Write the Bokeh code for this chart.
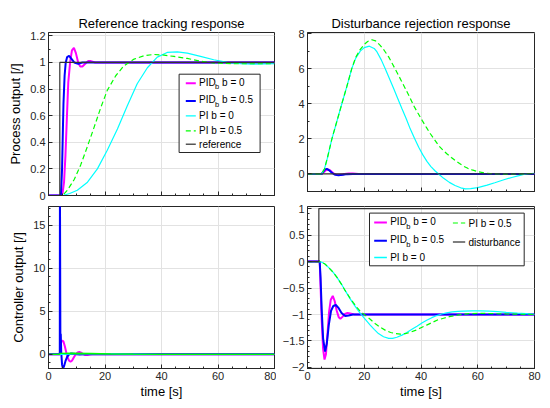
from bokeh.plotting import figure
from bokeh.models import FixedTicker, Range1d, CustomJSTickFormatter
from bokeh.layouts import column, row
from bokeh.embed import file_html
from bokeh.resources import INLINE
from bokeh.core.properties import value

FONT = "Liberation Sans"
C_PID0 = "#FF00FF"
C_PID05 = "#0000FF"
C_PI0 = "#00FFFF"
C_PI05 = "#00FF00"
C_REF = "#333333"

# ---------------- data: reference tracking (process output) ----------------
t_ref_tl = [0, 4, 4, 80]
y_ref_tl = [0, 0, 1, 1]

t_pid0_tl = [0, 4.5, 5.0, 5.5, 6.0, 6.5, 7.0, 7.65, 8.3, 9.0, 9.7, 10.5, 11.2, 12.0, 13.0, 14.0, 15.0, 16.5, 80]
y_pid0_tl = [0, 0, 0.02, 0.1, 0.3, 0.58, 0.85, 1.0, 1.09, 1.11, 1.07, 1.0, 0.97, 0.97, 0.99, 1.01, 1.01, 1.0, 1.0]

t_pid05_tl = [0, 4.4, 4.8, 5.1, 5.3, 5.7, 6.1, 6.6, 7.3, 8.0, 9.1, 10.5, 12.0, 80]
y_pid05_tl = [0, 0, 0.2, 0.5, 0.69, 0.9, 1.0, 1.04, 1.05, 1.03, 1.0, 0.99, 1.0, 1.0]

t_pi0_tl = [0, 5, 7.5, 10.2, 13.8, 17.3, 20.8, 24.4, 27.9, 31.4, 35, 38.5, 42, 45.6, 49.1, 53.8, 58.5, 63.3, 68, 72.7, 80]
y_pi0_tl = [0, 0, 0.015, 0.04, 0.1, 0.2, 0.34, 0.5, 0.675, 0.84, 0.96, 1.04, 1.075, 1.08, 1.07, 1.045, 1.02, 1.0, 0.99, 0.988, 0.99]

t_pi05_tl = [0, 5, 6.7, 9.1, 11.4, 13.8, 16.1, 18.5, 20.8, 23.8, 26.7, 30.3, 33.8, 37.3, 40.9, 44.4, 49.1, 53.8, 58.5, 65.6, 80]
y_pi05_tl = [0, 0, 0.04, 0.12, 0.23, 0.37, 0.51, 0.66, 0.79, 0.9, 0.975, 1.025, 1.05, 1.06, 1.055, 1.045, 1.03, 1.01, 0.995, 0.99, 0.99]

# ---------------- data: disturbance rejection (process output) ----------------
t_ref_tr = [0, 80]
y_ref_tr = [0, 0]

t_pid0_tr = [0, 5.0, 5.6, 6.4, 7.2, 8.0, 9.0, 10, 11.5, 13, 14.5, 16, 18, 80]
y_pid0_tr = [0, 0, 0.08, 0.2, 0.26, 0.2, 0.05, -0.04, -0.05, 0.0, 0.03, 0.02, 0, 0]

t_pid05_tr = [0, 5.0, 5.5, 6.2, 6.8, 7.5, 8.5, 9.5, 10.9, 12.5, 14, 16, 80]
y_pid05_tr = [0, 0, 0.12, 0.26, 0.29, 0.22, 0.08, -0.03, -0.08, -0.05, -0.01, 0, 0]

t_pi0_tr = [0, 5, 6, 7, 8.6, 10.35, 12.1, 13.9, 15.6, 17.0, 18.6, 20, 21.8, 23.5, 24.5, 26, 27.4, 28.9,
            30.4, 31.8, 33.3, 34.8, 36.2, 37.7, 39.2, 40.6, 42.1, 43.5, 45, 46.2, 48, 50, 52, 54, 55.6,
            57.5, 60, 63.3, 66, 69.2, 72, 74.5, 76.2, 78, 80]
y_pi0_tr = [0, 0, 0.3, 0.9, 2.0, 3.0, 4.0, 5.0, 6.0, 6.6, 7.0, 7.2, 7.28, 7.15, 6.95, 6.5, 6.0, 5.43,
            4.86, 4.3, 3.71, 3.14, 2.57, 2.03, 1.52, 1.1, 0.72, 0.42, 0.17, 0.0, -0.25, -0.48, -0.66, -0.79, -0.85,
            -0.84, -0.78, -0.64, -0.5, -0.33, -0.2, -0.1, -0.03, 0.01, 0.04]

t_pi05_tr = [0, 5, 6, 7, 8.6, 10.35, 12.1, 13.9, 15.6, 17.0, 18.6, 20, 21.2, 22.7, 24, 25.6, 27, 28.6, 30,
             31.5, 33, 34.5, 36, 37.4, 38.9, 40.4, 41.9, 43.3, 44.8, 46.2, 47.7, 49.2, 50.7, 52.1, 53.6, 55,
             56.5, 58, 59.5, 61, 62.7, 64.5, 67, 70, 75, 80]
y_pi05_tr = [0, 0, 0.3, 0.9, 2.0, 3.0, 4.0, 5.0, 6.0, 6.65, 7.1, 7.38, 7.55, 7.65, 7.58, 7.33, 7.05, 6.67, 6.25,
             5.8, 5.33, 4.86, 4.38, 3.9, 3.47, 3.05, 2.65, 2.29, 1.95, 1.62, 1.36, 1.14, 0.94, 0.76, 0.59, 0.44,
             0.32, 0.23, 0.16, 0.1, 0.05, 0.02, 0.0, -0.01, 0.0, 0.03]

# ---------------- data: reference tracking (controller output) ----------------
t_zero_bl = [0, 80]
u_zero_bl = [0, 0]

t_pid0_bl = [0, 4.0, 4.2, 4.5, 4.9, 5.3, 5.8, 6.3, 6.8, 7.3, 7.8, 8.3, 9.0, 9.7, 10.3, 10.9, 11.6, 12.3, 13.0, 13.8, 14.6, 15.5, 80]
u_pid0_bl = [0, 0, 0.9, 1.4, 1.6, 1.5, 0.9, 0.2, -0.4, -0.75, -0.85, -0.75, -0.35, 0.05, 0.22, 0.27, 0.18, 0.02, -0.08, -0.08, -0.03, 0.0, 0.0]

t_pid05_bl = [0, 4.0, 4.05, 4.2, 4.35, 4.5, 4.8, 5.1, 5.5, 6.0, 6.6, 7.3, 8.0, 9.0, 10.0, 11.0, 13.0, 80]
u_pid05_bl = [0, 0, 20.0, 2.4, 2.3, 0.3, -1.2, -1.65, -1.4, -0.8, -0.3, 0.0, 0.1, 0.08, 0.0, -0.03, 0.0, 0.0]

t_pi0_bl = [0, 5, 10, 15, 22, 30, 40, 55, 80]
u_pi0_bl = [0, 0, 0.04, 0.07, 0.06, 0.03, 0.0, -0.01, 0]

t_pi05_bl = [0, 4, 4.01, 8, 15, 22, 30, 40, 55, 80]
u_pi05_bl = [0, 0, 0.12, 0.14, 0.1, 0.06, 0.02, -0.01, 0, 0]

# ---------------- data: disturbance rejection (controller output) ----------------
t_dist = [0, 4, 4, 80]
d_dist = [0, 0, 1, 1]

t_pid0_br = [0, 4.3, 4.5, 5.0, 5.5, 6.0, 6.5, 7.0, 7.6, 8.2, 8.9, 9.6, 10.3, 11.0, 11.6, 12.4, 13.2, 14.1, 15.0, 16.5, 80]
u_pid0_br = [0, 0, -0.3, -1.1, -1.65, -1.85, -1.75, -1.4, -0.95, -0.72, -0.65, -0.75, -0.93, -1.05, -1.08, -1.04, -0.99, -0.97, -0.98, -1.0, -1.0]

t_pid05_br = [0, 4.3, 4.6, 5.0, 5.5, 6.2, 6.8, 7.5, 8.3, 9.1, 10.0, 11.0, 12.0, 13.3, 14.5, 16, 80]
u_pid05_br = [0, 0, -0.3, -0.9, -1.45, -1.7, -1.55, -1.2, -0.93, -0.84, -0.82, -0.88, -0.97, -1.03, -1.02, -1.0, -1.0]

t_pi0_br = [0, 4.5, 6, 7.4, 9, 10.4, 12, 13.3, 15, 16.2, 17.5, 18.6, 20, 22.1, 23.5, 25, 26.8, 28.6, 30, 31.5,
            33.3, 35, 36.8, 38.6, 40.3, 42, 43.8, 45.6, 47.3, 49, 51, 53, 55, 58, 61, 64, 67, 70, 74, 77, 80]
u_pi0_br = [0, 0, -0.04, -0.11, -0.2, -0.3, -0.43, -0.55, -0.7, -0.8, -0.9, -0.98, -1.07, -1.2, -1.28, -1.36,
            -1.42, -1.45, -1.45, -1.43, -1.39, -1.34, -1.28, -1.22, -1.16, -1.11, -1.06, -1.02, -0.99, -0.97,
            -0.95, -0.94, -0.935, -0.93, -0.93, -0.935, -0.945, -0.96, -0.975, -0.985, -0.995]

t_pi05_br = [0, 4.5, 6, 7.4, 9, 10.4, 12, 13.3, 15, 16.2, 17.5, 18.6, 20, 22.1, 23.8, 25.6, 27.5, 29.3, 31,
             32.8, 34.5, 36, 38, 40, 42, 44, 46, 48, 50, 52, 54, 57, 60, 63, 66, 70, 75, 80]
u_pi05_br = [0, 0, -0.04, -0.11, -0.2, -0.3, -0.43, -0.55, -0.69, -0.78, -0.87, -0.94, -1.0, -1.09, -1.17,
             -1.24, -1.3, -1.34, -1.36, -1.37, -1.36, -1.34, -1.3, -1.25, -1.2, -1.15, -1.1, -1.07, -1.04,
             -1.02, -1.0, -0.985, -0.98, -0.98, -0.985, -0.99, -0.995, -1.0]

x_ticks = [0, 20, 40, 60, 80]
x_minor = list(range(0, 81, 5))
yt_tl = [0, 0.2, 0.4, 0.6, 0.8, 1.0, 1.2]
ym_tl = [i / 10 for i in range(0, 13)]
yt_tr = [0, 2, 4, 6, 8]
ym_tr = list(range(-1, 9))
yt_bl = [0, 5, 10, 15]
ym_bl = list(range(-1, 18))
yt_br = [-2, -1.5, -1, -0.5, 0, 0.5, 1]
ym_br = [i / 10 for i in range(-20, 11)]


def make_fig(title, yr, fw, fh, bl, br, bt, bb, yt, ym, ylabel=None, xlabel=None, xlabels=True):
    p = figure(frame_width=fw, frame_height=fh, x_range=Range1d(0, 80), y_range=Range1d(*yr),
               output_backend="svg", toolbar_location=None, title=title,
               min_border_left=bl, min_border_right=br, min_border_top=bt, min_border_bottom=bb)
    p.background_fill_color = "white"
    p.border_fill_color = "white"
    p.outline_line_color = "#262626"
    p.outline_line_width = 1
    if title:
        p.title.text_font = FONT
        p.title.text_font_size = "13px"
        p.title.text_font_style = "normal"
        p.title.text_color = "#000000"
        p.title.align = "center"
        p.title.standoff = 3
        p.title.offset = 0
    p.xaxis.ticker = FixedTicker(ticks=x_ticks, minor_ticks=x_minor)
    p.yaxis.ticker = FixedTicker(ticks=yt, minor_ticks=ym)
    for ax in [p.xaxis[0], p.yaxis[0]]:
        ax.axis_line_color = "#262626"
        ax.major_tick_line_color = "#262626"
        ax.minor_tick_line_color = "#262626"
        ax.major_tick_in = 4
        ax.major_tick_out = 0
        ax.minor_tick_in = 2
        ax.minor_tick_out = 0
        ax.major_label_text_font = FONT
        ax.major_label_text_font_size = "11px"
        ax.major_label_text_color = "#262626"
        ax.major_label_standoff = 3
        ax.axis_label_text_font = FONT
        ax.axis_label_text_font_size = "13px"
        ax.axis_label_text_font_style = "normal"
        ax.axis_label_text_color = "#000000"
        ax.axis_label_standoff = 4
    p.xaxis.axis_label_standoff = 1
    if ylabel:
        p.yaxis.axis_label = ylabel
    if xlabel:
        p.xaxis.axis_label = xlabel
    if not xlabels:
        p.xaxis.formatter = CustomJSTickFormatter(code="return ''")
        p.xaxis.major_label_standoff = 0
    p.xgrid.ticker = FixedTicker(ticks=x_ticks)
    p.ygrid.ticker = FixedTicker(ticks=yt)
    for g in [p.xgrid[0], p.ygrid[0]]:
        g.grid_line_color = "#e2e2e2"
        g.grid_line_width = 1
    return p


def legend(p, fw, fh, yr, box, entries):
    y0, y1 = yr
    X = lambda fx: fx / fw * 80.0
    Y = lambda fy: y1 - fy / fh * (y1 - y0)
    bx0, by0, bx1, by1 = box
    p.quad(left=[X(bx0)], right=[X(bx1)], top=[Y(by0)], bottom=[Y(by1)],
           fill_color="white", line_color="#262626", line_width=1)
    for (parts, color, lw, dash, s0, s1, tx, fy) in entries:
        p.segment(x0=[X(s0)], y0=[Y(fy)], x1=[X(s1)], y1=[Y(fy)], line_color=color,
                  line_width=lw, line_dash=dash)
        if len(parts) == 3:
            p.text(x=[X(tx)], y=[Y(fy - 1)], text=[parts[0]], text_font=value(FONT),
                   text_font_size=value("10px"), text_baseline="middle", text_align="left",
                   text_color="#000000")
            p.text(x=[X(tx + 16)], y=[Y(fy + 3.5)], text=[parts[1]], text_font=value(FONT),
                   text_font_size=value("7.5px"), text_baseline="middle", text_align="left",
                   text_color="#000000")
            p.text(x=[X(tx + 23)], y=[Y(fy - 1)], text=[parts[2]], text_font=value(FONT),
                   text_font_size=value("10px"), text_baseline="middle", text_align="left",
                   text_color="#000000")
        else:
            p.text(x=[X(tx)], y=[Y(fy)], text=[parts[0]], text_font=value(FONT),
                   text_font_size=value("10px"), text_baseline="middle", text_align="left",
                   text_color="#000000")


# ---------- top-left ----------
yr_tl = (0, 1.225)
tl = make_fig("Reference tracking response", yr_tl, 226, 163, 48, 2, 28, 10, yt_tl, ym_tl,
              ylabel="Process output [/]", xlabels=False)
tl.line(t_pid0_tl, y_pid0_tl, line_color=C_PID0, line_width=2)
tl.line(t_pid05_tl, y_pid05_tl, line_color=C_PID05, line_width=2)
tl.line(t_pi0_tl, y_pi0_tl, line_color=C_PI0, line_width=1.2)
tl.line(t_pi05_tl, y_pi05_tl, line_color=C_PI05, line_width=1.2, line_dash="5 3")
tl.line(t_ref_tl, y_ref_tl, line_color=C_REF, line_width=1.2)
legend(tl, 226, 163, yr_tl, (130.6, 41.7, 211.6, 120), [
    (("PID", "b", "b = 0"), C_PID0, 2, "solid", 137.3, 147.3, 150.6, 50.7),
    (("PID", "b", "b = 0.5"), C_PID05, 2, "solid", 137.3, 147.3, 150.6, 68.4),
    (("PI b = 0",), C_PI0, 1.2, "solid", 137.3, 147.3, 150.6, 83.4),
    (("PI b = 0.5",), C_PI05, 1.2, "5 3", 137.3, 147.3, 150.6, 98.4),
    (("reference",), "#555555", 1.5, "solid", 137.3, 147.3, 150.6, 111.7),
])

# ---------- top-right ----------
yr_tr = (-1.0, 8.06)
tr = make_fig("Disturbance rejection response", yr_tr, 227, 159, 31, 8, 32, 10, yt_tr, ym_tr,
              xlabels=False)
tr.line(t_pid0_tr, y_pid0_tr, line_color=C_PID0, line_width=2)
tr.line(t_pid05_tr, y_pid05_tr, line_color=C_PID05, line_width=2)
tr.line(t_pi0_tr, y_pi0_tr, line_color=C_PI0, line_width=1.2)
tr.line(t_pi05_tr, y_pi05_tr, line_color=C_PI05, line_width=1.2, line_dash="5 3")
tr.line(t_ref_tr, y_ref_tr, line_color=C_REF, line_width=1.2)

# ---------- bottom-left ----------
yr_bl = (-1.65, 17.2)
bl = make_fig(None, yr_bl, 226, 162, 48, 2, 5, 32, yt_bl, ym_bl,
              ylabel="Controller output [/]", xlabel="time [s]")
bl.line(t_pid0_bl, u_pid0_bl, line_color=C_PID0, line_width=2)
bl.line(t_pid05_bl, u_pid05_bl, line_color=C_PID05, line_width=2)
bl.line(t_zero_bl, u_zero_bl, line_color=C_REF, line_width=1.2)
bl.line(t_pi0_bl, u_pi0_bl, line_color=C_PI0, line_width=1.2)
bl.line(t_pi05_bl, u_pi05_bl, line_color=C_PI05, line_width=1.2)

# ---------- bottom-right ----------
yr_br = (-2.02, 1.04)
br = make_fig(None, yr_br, 227, 162, 31, 8, 5, 32, yt_br, ym_br, xlabel="time [s]")
br.line(t_pid0_br, u_pid0_br, line_color=C_PID0, line_width=2)
br.line(t_pid05_br, u_pid05_br, line_color=C_PID05, line_width=2)
br.line(t_pi0_br, u_pi0_br, line_color=C_PI0, line_width=1.2)
br.line(t_pi05_br, u_pi05_br, line_color=C_PI05, line_width=1.2, line_dash="5 3")
br.line(t_dist, d_dist, line_color=C_REF, line_width=1.2)
legend(br, 227, 162, yr_br, (62, 6.6, 216.7, 59.3), [
    (("PID", "b", "b = 0"), C_PID0, 2, "solid", 66.7, 79.4, 82.7, 16),
    (("PID", "b", "b = 0.5"), C_PID05, 2, "solid", 66.7, 79.4, 82.7, 34.3),
    (("PI b = 0",), C_PI0, 1.5, "solid", 66.7, 79.4, 82.7, 51),
    (("PI b = 0.5",), C_PI05, 1.2, "5 3", 145.4, 157.7, 161, 16.5),
    (("disturbance",), "#555555", 1.5, "solid", 145.4, 157.7, 161, 35.5),
])

layout = column(row(tl, tr), row(bl, br))
open("out.html", "w").write(file_html(layout, INLINE))
